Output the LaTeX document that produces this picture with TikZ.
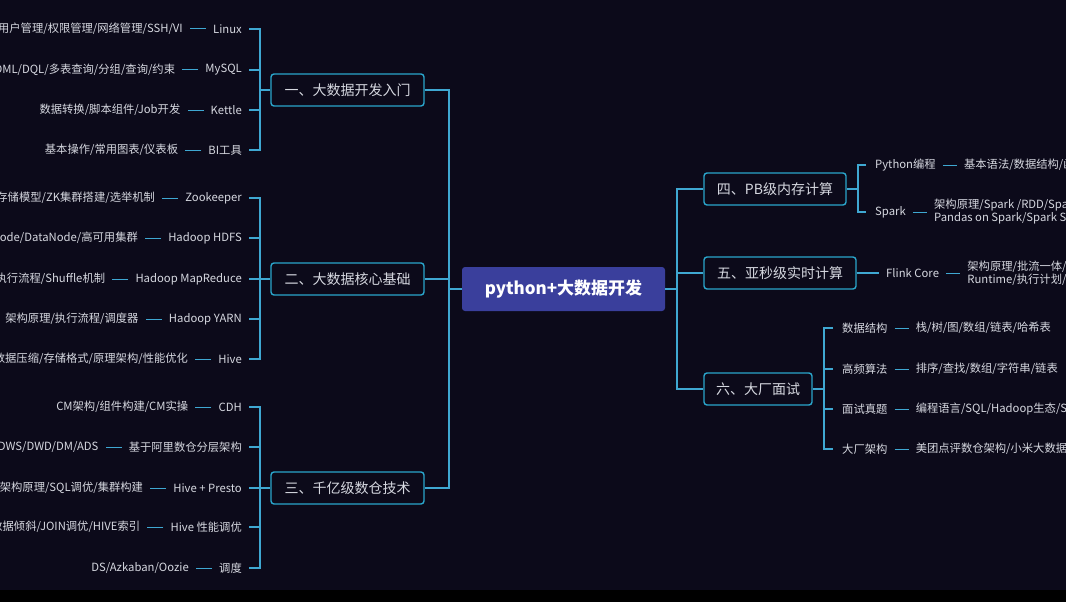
\documentclass[tikz,border=0pt]{standalone}
\usepackage{fontspec}
\setmainfont{Noto Sans CJK SC}
\usetikzlibrary{positioning}
\definecolor{bg}{HTML}{0C0A1A}
\definecolor{ln}{HTML}{3FA8D2}
\definecolor{bx}{HTML}{2AA6CC}
\definecolor{tx}{HTML}{D6D8E0}
\definecolor{ctr}{HTML}{3A3F9C}
\tikzset{
  leaf/.style={text=tx,font=\fontsize{11.3}{13}\selectfont,inner sep=0pt},
  topic/.style={draw=bx,line width=1.4pt,rounded corners=3pt,fill=bg,text=tx,font=\fontsize{14}{16}\selectfont,minimum height=32pt,inner xsep=8pt},
  conn/.style={draw=ln,line width=1.3pt},
}
\begin{document}
\begin{tikzpicture}[x=1pt,y=-1pt]
\useasboundingbox (0,0) rectangle (1066,602);
\clip (0,0) rectangle (1066,602);
\fill[bg] (0,0) rectangle (1066,602);
\fill[black] (0,590) rectangle (1066,602);
% center
\node[fill=ctr,rounded corners=3pt,text=white,font=\fontsize{17}{20}\selectfont\bfseries,minimum width=203pt,minimum height=44pt] (c) at (563.5,289) {python+大数据开发};
% left topics
\node[topic,minimum width=153pt] (t1) at (347.5,90) {一、大数据开发入门};
\node[topic,minimum width=153pt] (t2) at (347.5,279) {二、大数据核心基础};
\node[topic,minimum width=153pt] (t3) at (347.5,488) {三、千亿级数仓技术};
\coordinate (lj) at (449,289);
\draw[conn] (c.west) -- (lj);
\draw[conn] (t1.east) -| (lj) |- (t3.east);
\draw[conn] (t2.east) -- (t2.east -| lj);
% right topics
\node[topic,minimum width=142pt] (t4) at (775,189) {四、PB级内存计算};
\node[topic,minimum width=152pt] (t5) at (780,273) {五、亚秒级实时计算};
\node[topic,minimum width=108pt] (t6) at (758,389) {六、大厂面试};
\coordinate (rj) at (677,289);
\draw[conn] (c.east) -- (rj);
\draw[conn] (t4.west) -| (rj) |- (t6.west);
\draw[conn] (t5.west) -- (t5.west -| rj);
% left leaves
\newcommand\lleaf[4]{%
  \node[leaf,anchor=east] (l#1) at (242,#2) {#3};
  \node[leaf,anchor=east,left=30pt of l#1] (d#1) {#4};
  \draw[conn,line width=1pt] ([xshift=-7pt]l#1.west) -- ([xshift=7pt]d#1.east);
  \draw[conn] (249,#2) -- (261,#2);
}
\lleaf{a}{29}{Linux}{用户管理/权限管理/网络管理/SSH/VI}
\lleaf{b}{70}{MySQL}{DDL/DML/DQL/多表查询/分组/查询/约束}
\lleaf{c}{110}{Kettle}{数据转换/脚本组件/Job开发}
\lleaf{d}{150}{BI工具}{基本操作/常用图表/仪表板}
\draw[conn] (260,29) -- (260,150); \draw[conn] (260,90) -- (t1.west);
\lleaf{e}{198}{Zookeeper}{数据存储模型/ZK集群搭建/选举机制}
\lleaf{f}{238}{Hadoop HDFS}{NameNode/DataNode/高可用集群}
\lleaf{g}{279}{Hadoop MapReduce}{执行流程/Shuffle机制}
\lleaf{h}{319}{Hadoop YARN}{架构原理/执行流程/调度器}
\lleaf{i}{359}{Hive}{数据压缩/存储格式/原理架构/性能优化}
\draw[conn] (260,198) -- (260,359); \draw[conn] (260,279) -- (t2.west);
\lleaf{j}{407}{CDH}{CM架构/组件构建/CM实操}
\lleaf{k}{447}{基于阿里数仓分层架构}{ODS/DWS/DWD/DM/ADS}
\lleaf{m}{488}{Hive + Presto}{架构原理/SQL调优/集群构建}
\lleaf{n}{527}{Hive 性能调优}{数据倾斜/JOIN调优/HIVE索引}
\lleaf{o}{568}{调度}{DS/Azkaban/Oozie}
\draw[conn] (260,407) -- (260,568); \draw[conn] (260,488) -- (t3.west);
% right leaves
\newcommand\rleaf[5]{%
  \node[leaf,anchor=west] (r#1) at (#2,#3) {#4};
  \node[leaf,anchor=west,right=28pt of r#1,align=left] (e#1) {#5};
  \draw[conn,line width=1pt] ([xshift=7pt]r#1.east) -- ([xshift=-7pt]e#1.west);
}
\rleaf{a}{875}{165}{Python编程}{基本语法/数据结构/函数/面向对象}
\rleaf{b}{875}{212}{Spark}{架构原理/Spark /RDD/SparkSQL\\Pandas on Spark/Spark Streaming}
\draw[conn] (t4.east) -- (858,189);
\draw[conn] (866,165) -- (858,165) -- (858,212) -- (866,212);
\rleaf{c}{886}{273}{Flink Core}{架构原理/批流一体/Flink SQL\\Runtime/执行计划/状态管理}
\draw[conn] (t5.east) -- (879,273);
\rleaf{d}{842}{328}{数据结构}{栈/树/图/数组/链表/哈希表}
\rleaf{e}{842}{369}{高频算法}{排序/查找/数组/字符串/链表}
\rleaf{f}{842}{409}{面试真题}{编程语言/SQL/Hadoop生态/Spark}
\rleaf{g}{842}{449}{大厂架构}{美团点评数仓架构/小米大数据平台}
\draw[conn] (t6.east) -- (824,389);
\draw[conn] (833,328) -- (824,328) -- (824,449) -- (833,449);
\foreach \y in {369,409} \draw[conn] (824,\y) -- (833,\y);
\end{tikzpicture}
\end{document}
